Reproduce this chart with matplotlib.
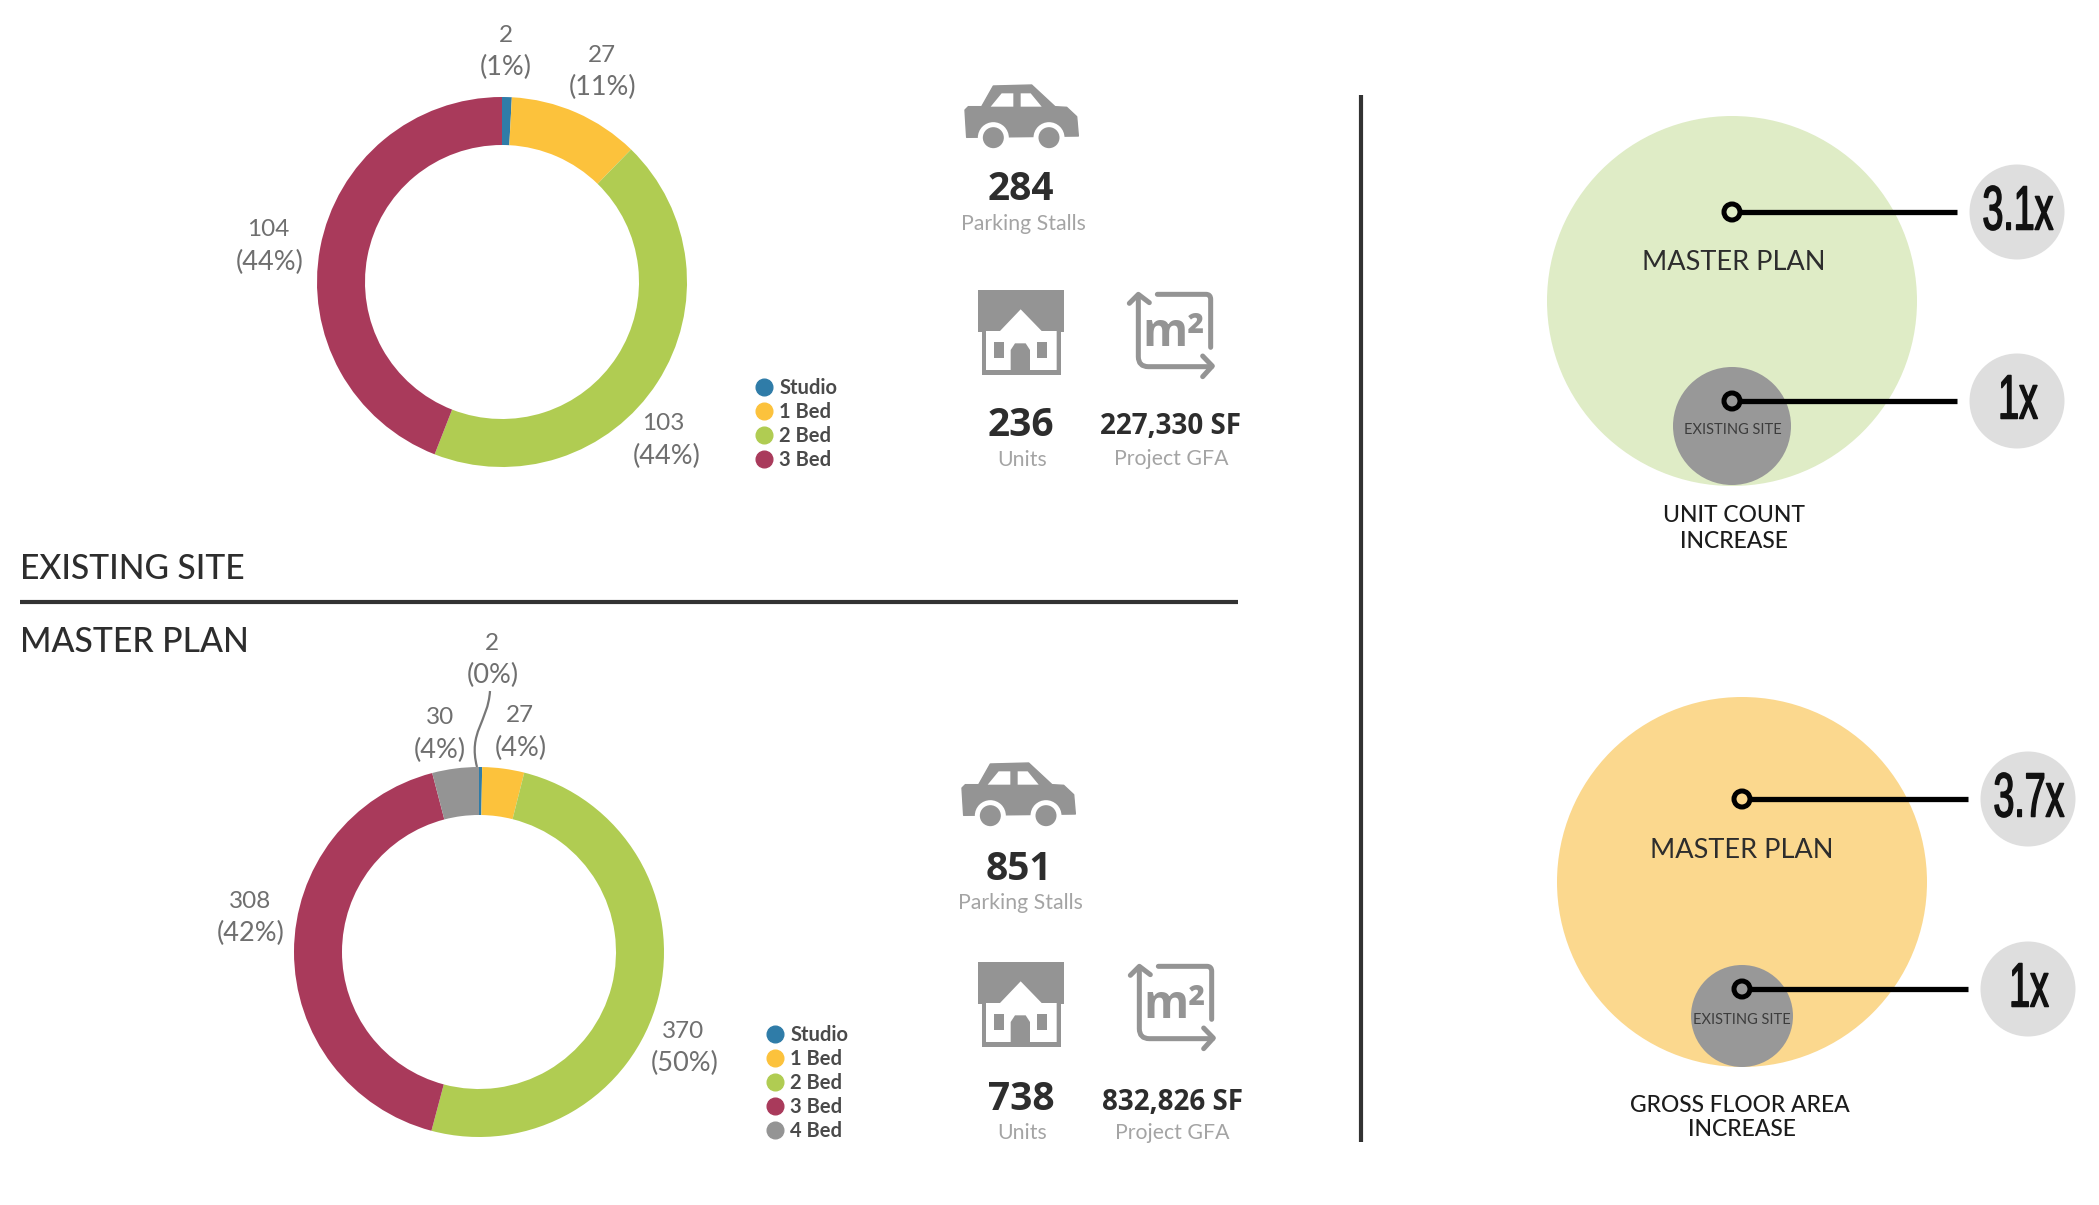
import matplotlib
matplotlib.use("Agg")
import matplotlib.pyplot as plt
from matplotlib.patches import Circle, PathPatch, Polygon
from matplotlib.path import Path
from matplotlib.lines import Line2D
from matplotlib.patheffects import AbstractPathEffect
from matplotlib.transforms import Affine2D

W, H = 2099, 1205
plt.rcParams['font.family'] = ['Lato', 'DejaVu Sans']

existing_categories = ['Studio', '1 Bed', '2 Bed', '3 Bed']
existing_units = [2, 27, 103, 104]
existing_pct = ['(1%)', '(11%)', '(44%)', '(44%)']
master_categories = ['Studio', '1 Bed', '2 Bed', '3 Bed', '4 Bed']
master_units = [2, 27, 370, 308, 30]
master_pct = ['(0%)', '(4%)', '(50%)', '(42%)', '(4%)']
palette = {'Studio': '#2f7ca8', '1 Bed': '#fcc23c', '2 Bed': '#b0cc52',
           '3 Bed': '#a93a5b', '4 Bed': '#949494'}

DARK = '#2d2d2d'
GREY = '#6f6f6f'
ICON = '#949494'
LIGHT = '#a4a4a4'

fig = plt.figure(figsize=(W / 100, H / 100), dpi=100, facecolor='white')
ax = fig.add_axes([0, 0, 1, 1])
ax.set_xlim(0, W)
ax.set_ylim(H, 0)
ax.axis('off')


class Narrow(AbstractPathEffect):
    """Draws text squeezed horizontally about a given pixel column, slightly emboldened."""

    def __init__(self, cx, factor):
        super().__init__()
        self.cx, self.factor = cx, factor

    def draw_path(self, renderer, gc, tpath, affine, rgbFace=None):
        squeeze = Affine2D().translate(-self.cx, 0).scale(self.factor, 1).translate(self.cx, 0)
        gc0 = renderer.new_gc()
        gc0.copy_properties(gc)
        gc0.set_linewidth(1.1)
        gc0.set_foreground('#111111')
        renderer.draw_path(gc0, tpath, affine + squeeze, rgbFace)
        gc0.restore()


def donut(cx, cy, r, width, values, cats):
    a = fig.add_axes([(cx - r - 2) / W, 1 - (cy + r + 2) / H, (2 * r + 4) / W, (2 * r + 4) / H])
    a.pie(values, colors=[palette[c] for c in cats], startangle=90, counterclock=False,
          radius=r / (r + 2), wedgeprops=dict(width=width / (r + 2), linewidth=0))
    a.set_xlim(-1, 1)
    a.set_ylim(-1, 1)
    a.set_zorder(1)


def two_line(x1, y1, x2, y2, top, bottom):
    ax.text(x1, y1, str(top), ha='center', va='center', fontsize=17.5, color=GREY)
    ax.text(x2, y2, bottom, ha='center', va='center', fontsize=19.5, color=GREY)


def legend(x, y, cats):
    handles = [Line2D([], [], marker='o', ls='', ms=12, color=palette[c], label=c) for c in cats]
    fig.legend(handles=handles, loc='upper left', bbox_to_anchor=(x / W, 1 - y / H), frameon=False,
               labelspacing=0.2, handletextpad=-0.25, borderpad=0, borderaxespad=0,
               labelcolor='#4a4a4a', prop=dict(family='Lato', size=14.5, weight='bold'))


def car(dx, dy):
    def p(x, y):
        return (900 + x / 3 + dx, 50 + y / 3 + dy)
    verts = [p(*q) for q in [(205, 170), (245, 170), (280, 108), (395, 105), (465, 170), (500, 172),
                             (530, 200), (535, 258), (200, 262), (195, 180)]]
    ax.add_patch(Polygon(verts, closed=True, fc=ICON, ec=ICON, lw=1, joinstyle='round'))
    ax.add_patch(Polygon([p(272, 170), p(305, 130), p(340, 130), p(340, 170)], fc='white', ec='none'))
    ax.add_patch(Polygon([p(362, 170), p(362, 130), p(392, 130), p(425, 170)], fc='white', ec='none'))
    for x in (280, 447):
        ax.add_patch(Circle(p(x, 263), 15.5, fc='white', ec='none'))
        ax.add_patch(Circle(p(x, 263), 10.5, fc=ICON, ec='none'))


def house(dx, dy):
    def p(x, y):
        return (900 + x / 3 + dx, 50 + y / 3 + dy)
    ax.add_patch(Polygon([p(235, 720), p(492, 720), p(492, 845), p(235, 845)], fc=ICON, ec='none'))
    ax.add_patch(Polygon([p(245, 845), p(482, 845), p(482, 975), p(245, 975)], fc=ICON, ec='none'))
    ax.add_patch(Polygon([p(258, 843), p(300, 843), p(362, 778), p(425, 843), p(470, 843), p(470, 960), p(258, 960)],
                         fc='white', ec='none'))
    for x in (283, 412):
        ax.add_patch(Polygon([p(x, 875), p(x + 30, 875), p(x + 30, 925), p(x, 925)], fc=ICON, ec='none'))
    ax.add_patch(Polygon([p(332, 960), p(332, 900), p(345, 880), p(377, 880), p(390, 900), p(390, 960)], fc=ICON, ec='none'))


def area(dx, dy):
    def p(x, y):
        return (900 + x / 3 + dx, 50 + y / 3 + dy)
    kw = dict(fc='none', ec=ICON, lw=3.6, capstyle='round', joinstyle='round')
    ax.add_patch(PathPatch(Path([p(715, 738), p(715, 920), p(715, 950), p(745, 950), p(935, 950)],
                                [1, 2, 3, 3, 2]), **kw))
    ax.add_patch(PathPatch(Path([p(688, 760), p(715, 733), p(748, 758)], [1, 2, 2]), **kw))
    ax.add_patch(PathPatch(Path([p(908, 918), p(937, 948), p(908, 980)], [1, 2, 2]), **kw))
    ax.add_patch(PathPatch(Path([p(772, 733), p(918, 733), p(932, 733), p(932, 748), p(932, 892)],
                                [1, 2, 3, 3, 2]), **kw))
    x, y = p(822, 850)
    ax.text(x, y, 'm²', ha='center', va='center', fontsize=33, fontweight='bold', color=ICON,
            family=['Open Sans', 'DejaVu Sans'])


def stat(x, y, value, size=20):
    ax.text(x, y, value, ha='center', va='center', fontsize=size, fontweight='bold', color=DARK,
            family=['Open Sans', 'DejaVu Sans'])


def caption(x, y, label):
    ax.text(x, y, label, ha='center', va='center', fontsize=15.3, color=LIGHT)


def scale(cx, cy, cr, fill, sx, sy, sr, dy1, dy2, lx, tag1, tag2):
    ax.add_patch(Circle((cx, cy), cr, fc=fill, ec='none', zorder=1))
    ax.add_patch(Circle((sx, sy), sr, fc='#989898', ec='none', zorder=2))
    for yy, tag in ((dy1, tag1), (dy2, tag2)):
        ax.plot([sx, lx], [yy, yy], color='black', lw=3.8, solid_capstyle='butt', zorder=3)
        ax.add_patch(Circle((sx, yy), 8, fc=fill if yy == dy1 else '#989898', ec='black', lw=3.6, zorder=4))
        ax.add_patch(Circle((lx + 60, yy), 47.5, fc='#dedede', ec='none', zorder=3))
        ax.text(lx + 61, yy + 1, tag, ha='center', va='center', fontsize=45, color='#111111',
                family='Liberation Sans', zorder=5, path_effects=[Narrow(lx + 61, 0.6)])


# Existing site
donut(502, 282, 185, 48, existing_units, existing_categories)
two_line(506, 35, 506, 67, existing_units[0], existing_pct[0])
two_line(602, 55, 603, 87, existing_units[1], existing_pct[1])
two_line(663, 424, 667, 456, existing_units[2], existing_pct[2])
two_line(268, 229, 270, 262, existing_units[3], existing_pct[3])
legend(744, 378, existing_categories)

# Master plan
donut(479, 952, 185, 48, master_units, master_categories)
two_line(492, 643, 493, 675, master_units[0], master_pct[0])
two_line(520, 716, 521, 748, master_units[1], master_pct[1])
two_line(683, 1031, 685, 1063, master_units[2], master_pct[2])
two_line(250, 901, 251, 933, master_units[3], master_pct[3])
two_line(440, 717, 440, 750, master_units[4], master_pct[4])
ax.add_patch(PathPatch(Path([(490, 691), (488, 722), (468, 732), (477, 767)], [1, 4, 4, 4]),
                       fc='none', ec='#777777', lw=1.6))
legend(755, 1025, master_categories)

# Headers and rules
ax.text(20, 569, 'EXISTING SITE', ha='left', va='center', fontsize=24.2, fontweight='medium', color=DARK)
ax.text(20, 642, 'MASTER PLAN', ha='left', va='center', fontsize=24.3, fontweight='medium', color=DARK)
ax.plot([20, 1238], [602, 602], color='#333333', lw=3, solid_capstyle='butt')
ax.plot([1361, 1361], [95, 1142], color='#333333', lw=3, solid_capstyle='butt')

# Statistics, top
car(0, 0)
stat(1021, 190, '284', 28)
caption(1023, 224, 'Parking Stalls')
house(0, 0)
stat(1021, 426, '236', 28)
caption(1022, 460, 'Units')
area(0, 0)
stat(1171, 426, '227,330 SF', 20)
caption(1171, 459, 'Project GFA')

# Statistics, bottom
car(-3, 678)
stat(1019, 869, '851', 28)
caption(1020, 903, 'Parking Stalls')
house(0, 672)
stat(1021, 1099, '738', 28)
caption(1022, 1133, 'Units')
area(1, 672)
stat(1173, 1102, '832,826 SF', 20)
caption(1172, 1133, 'Project GFA')

# Growth circles
scale(1732, 301, 185, '#dfecc6', 1732, 426, 59, 212, 401, 1957, '3.1x', '1x')
ax.text(1734, 262, 'MASTER PLAN', ha='center', va='center', fontsize=19.5, color=DARK, zorder=5)
ax.text(1733, 430, 'EXISTING SITE', ha='center', va='center', fontsize=10.5, color='#3c3c3c', zorder=5)
ax.text(1734, 516, 'UNIT COUNT', ha='center', va='center', fontsize=16.5, fontweight='medium', color='#1c1c1c')
ax.text(1734, 541, 'INCREASE', ha='center', va='center', fontsize=16.5, fontweight='medium', color='#1c1c1c')

scale(1742, 882, 185, '#fbd88e', 1742, 1016, 51, 799, 989, 1968, '3.7x', '1x')
ax.text(1742, 851, 'MASTER PLAN', ha='center', va='center', fontsize=19.5, color=DARK, zorder=5)
ax.text(1742, 1020, 'EXISTING SITE', ha='center', va='center', fontsize=10.5, color='#3c3c3c', zorder=5)
ax.text(1740, 1105, 'GROSS FLOOR AREA', ha='center', va='center', fontsize=16.5, fontweight='medium', color='#1c1c1c')
ax.text(1742, 1130, 'INCREASE', ha='center', va='center', fontsize=16.5, fontweight='medium', color='#1c1c1c')

fig.savefig('out.png', dpi=100, facecolor='white')
